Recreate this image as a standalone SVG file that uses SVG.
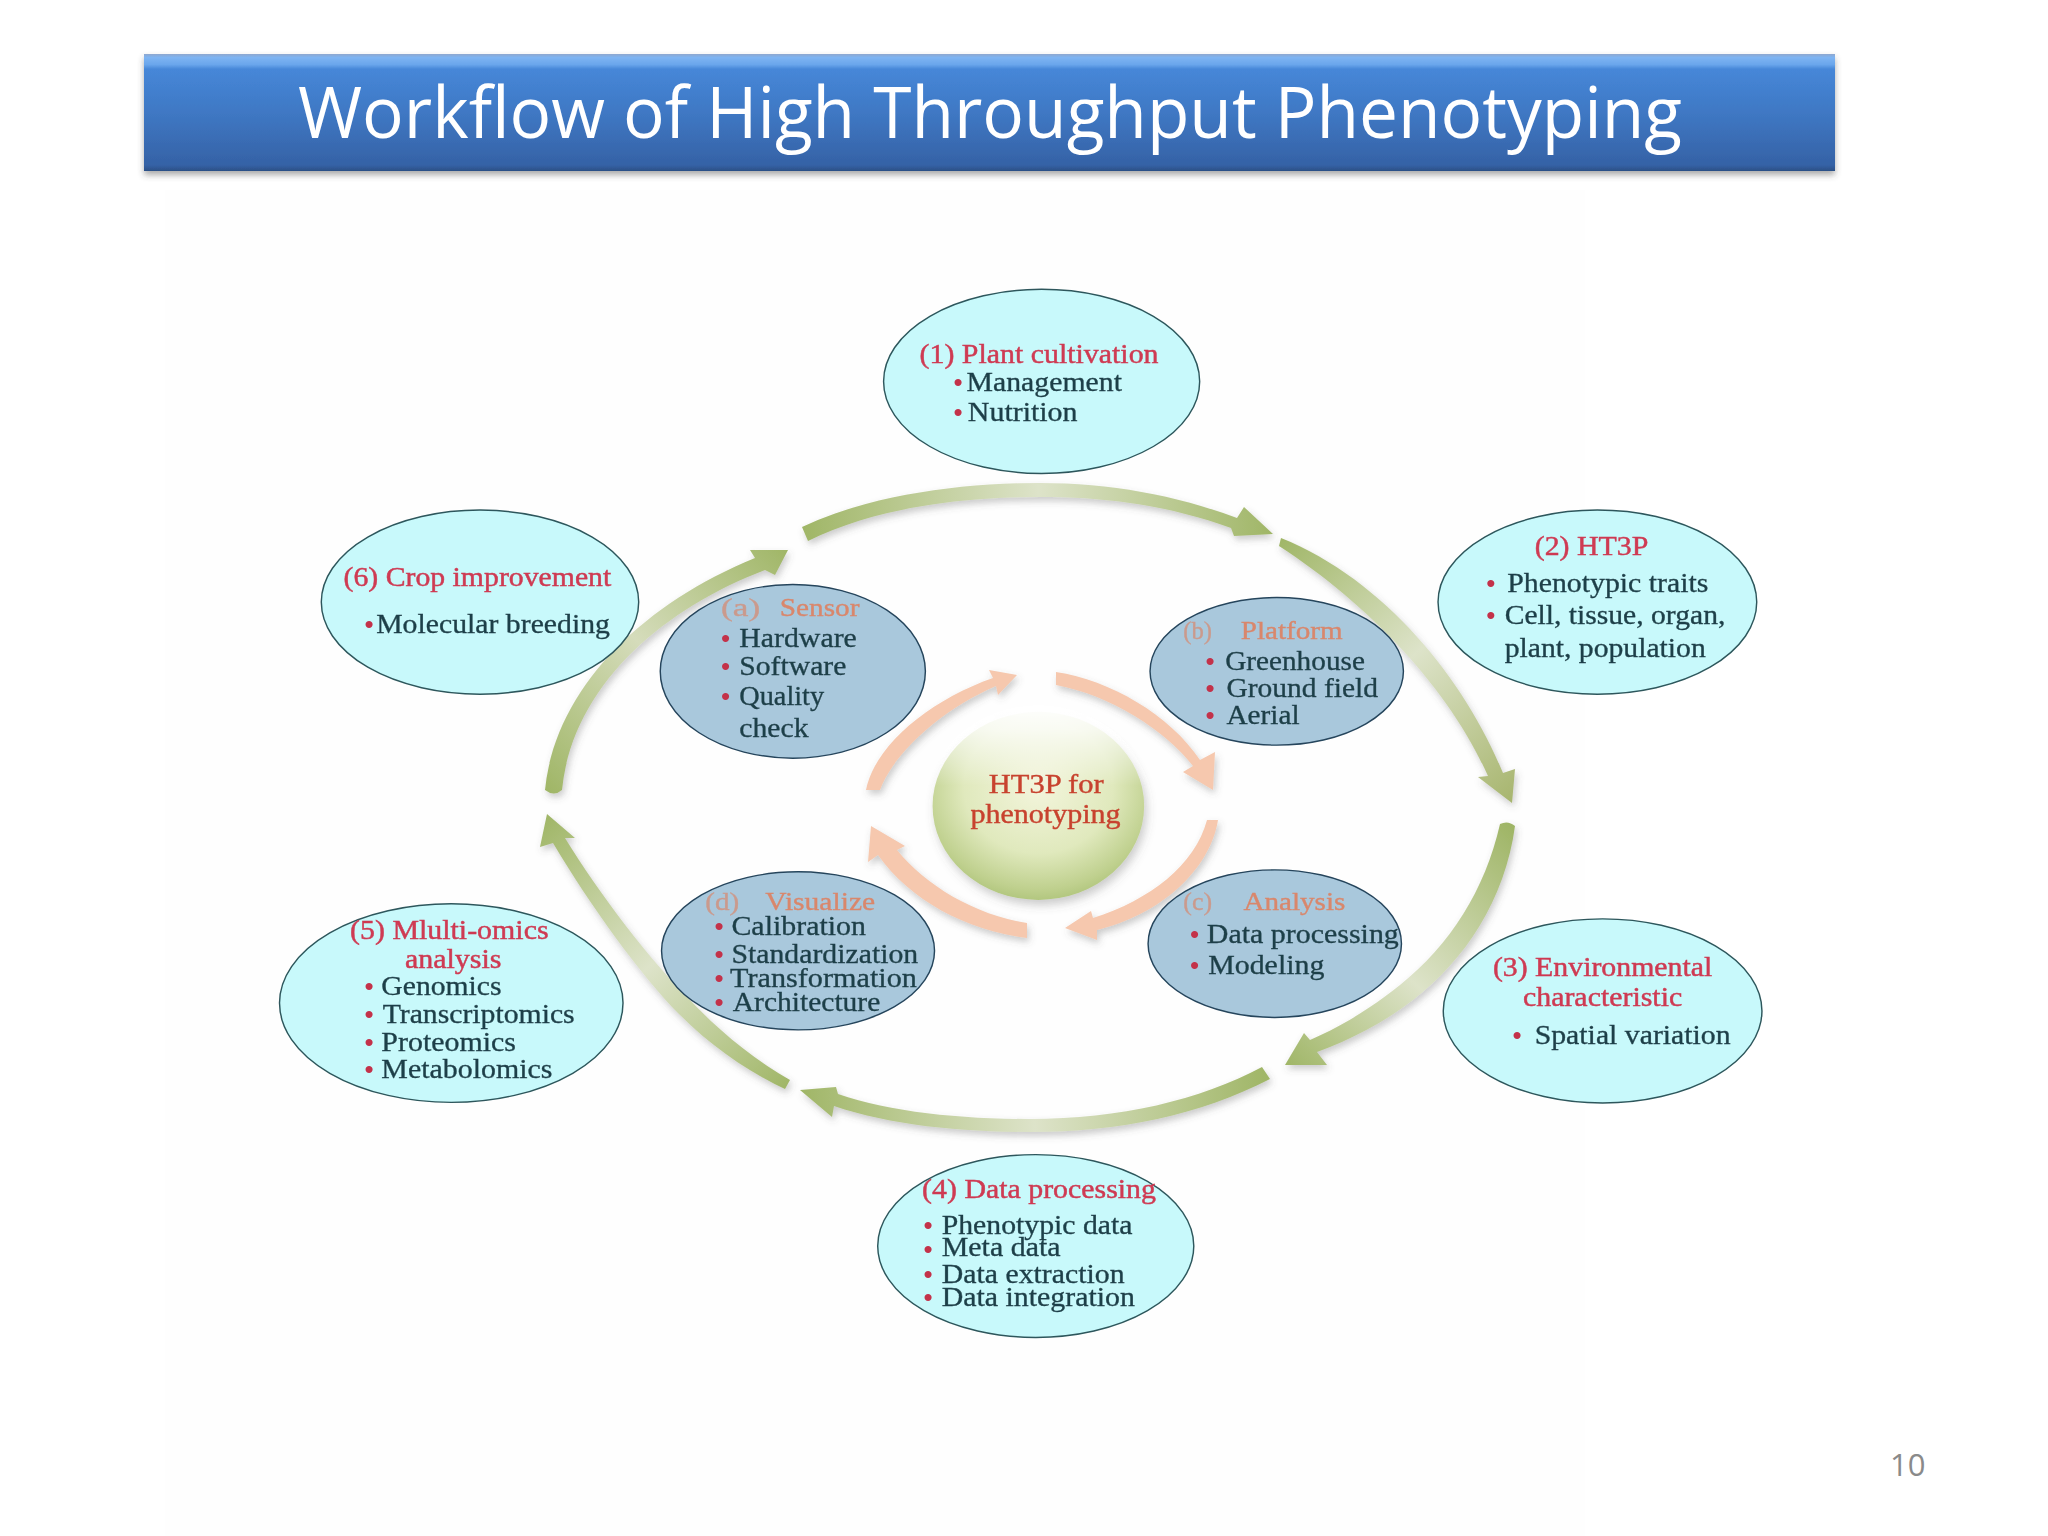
<svg xmlns="http://www.w3.org/2000/svg" width="2048" height="1536" viewBox="0 0 2048 1536">
<style>
text{font-family:"Liberation Serif","Times New Roman",serif}
.h{fill:#cf3a52;stroke:#cf3a52;stroke-width:.35;font-size:21px}
.o{fill:#d9876c;stroke:#d9876c;stroke-width:.3;font-size:20px}
.b{fill:#1f3f48;stroke:#1f3f48;stroke-width:.25;font-size:20.5px}
.d{fill:#c3304a;font-size:20px;font-weight:bold}
.c{fill:#c8f9fb;stroke:#2d575c;stroke-width:1.1}
.s{fill:#a9c8dc;stroke:#25455c;stroke-width:1.1}
.g{stroke:none}
.p{fill:#f6c8ae;stroke:none}
</style>
<defs>
<linearGradient id="bar" x1="0" y1="0" x2="0" y2="1">
<stop offset="0" stop-color="#8fa8cf"/><stop offset=".03" stop-color="#7eb4f2"/><stop offset=".09" stop-color="#6aa6ec"/><stop offset=".13" stop-color="#4687d8"/><stop offset=".5" stop-color="#3f78c4"/><stop offset=".95" stop-color="#3562a6"/><stop offset="1" stop-color="#2b4f85"/>
</linearGradient>
<linearGradient id="a1" gradientUnits="userSpaceOnUse" x1="804" y1="530" x2="1273" y2="530"><stop offset="0" stop-color="#a0b667"/><stop offset=".5" stop-color="#dde3c9"/><stop offset="1" stop-color="#a0b667"/></linearGradient>
<linearGradient id="a2" gradientUnits="userSpaceOnUse" x1="1279" y1="540" x2="1512" y2="803"><stop offset="0" stop-color="#a0b667"/><stop offset=".5" stop-color="#dde3c9"/><stop offset="1" stop-color="#a7b56e"/></linearGradient>
<linearGradient id="a3" gradientUnits="userSpaceOnUse" x1="1508" y1="824" x2="1285" y2="1065"><stop offset="0" stop-color="#9fb566"/><stop offset=".55" stop-color="#dde3c9"/><stop offset="1" stop-color="#a0b667"/></linearGradient>
<linearGradient id="a4" gradientUnits="userSpaceOnUse" x1="1266" y1="1070" x2="800" y2="1090"><stop offset="0" stop-color="#a0b667"/><stop offset=".5" stop-color="#dde3c9"/><stop offset="1" stop-color="#a0b667"/></linearGradient>
<linearGradient id="a5" gradientUnits="userSpaceOnUse" x1="788" y1="1087" x2="547" y2="814"><stop offset="0" stop-color="#a0b667"/><stop offset=".5" stop-color="#dde3c9"/><stop offset="1" stop-color="#a0b667"/></linearGradient>
<linearGradient id="a6" gradientUnits="userSpaceOnUse" x1="550" y1="793" x2="788" y2="550"><stop offset="0" stop-color="#a0b667"/><stop offset=".5" stop-color="#d5dcbb"/><stop offset="1" stop-color="#a0b667"/></linearGradient>
<radialGradient id="hub" cx=".5" cy=".4" r=".64"><stop offset="0" stop-color="#f3f5dc"/><stop offset=".55" stop-color="#e0e9bd"/><stop offset=".85" stop-color="#bfd08e"/><stop offset="1" stop-color="#a9c074"/></radialGradient>
<linearGradient id="fade" x1="0" y1="0" x2="0" y2="1"><stop offset="0" stop-color="#fff" stop-opacity="1"/><stop offset=".12" stop-color="#fff" stop-opacity=".8"/><stop offset=".4" stop-color="#fff" stop-opacity="0"/></linearGradient>
<filter id="sh" x="-20%" y="-20%" width="140%" height="140%"><feDropShadow dx="2" dy="4" stdDeviation="3.5" flood-color="#555" flood-opacity=".3"/></filter>
<filter id="soft" x="-2%" y="-2%" width="104%" height="104%"><feGaussianBlur stdDeviation=".7"/></filter>
<filter id="bs" x="-5%" y="-20%" width="110%" height="150%"><feDropShadow dx="0" dy="4" stdDeviation="3" flood-color="#444" flood-opacity=".45"/></filter>
</defs>
<rect width="2048" height="1536" fill="#ffffff"/>
<rect x="165" y="190" width="1420" height="1346" fill="#fefefe"/>
<g id="title">
<rect x="144" y="54" width="1691" height="117" fill="url(#bar)" filter="url(#bs)"/>
<text x="298" y="138" font-size="72" fill="#ffffff" textLength="1384" lengthAdjust="spacingAndGlyphs" style="font-family:'Open Sans','Noto Sans',sans-serif">Workflow of High Throughput Phenotyping</text>
</g>
<g filter="url(#soft)">
<g id="connectors">
<g filter="url(#sh)">
<path class="g" fill="url(#a1)" d="M802,527 C870,495 960,483 1040,483 C1110,483 1175,495 1237,518 L1244,507 L1273,534 L1234,536 L1231,528 C1170,506 1110,497 1040,497 C960,497 875,508 808,541 Z"/>
<path class="g" fill="url(#a2)" d="M1281,538 C1385,580 1465,680 1503,773 L1515,769 L1512,803 L1478,777 L1488,776 C1450,690 1370,605 1279,546 Z"/>
<path class="g" fill="url(#a3)" d="M1500,824 Q1508,820 1515,826 C1505,900 1465,960 1413,1000 C1385,1022 1350,1040 1317,1052 L1327,1065 L1285,1065 L1304,1033 L1310,1040 C1345,1025 1375,1005 1400,985 C1450,945 1485,890 1500,824 Z"/>
<path class="g" fill="url(#a4)" d="M1262,1067 L1270,1079 C1200,1115 1120,1132 1030,1132 C960,1132 890,1125 834,1106 L832,1117 L800,1090 L836,1087 L838,1094 C890,1112 960,1119 1030,1119 C1120,1119 1200,1100 1262,1067 Z"/>
<path class="g" fill="url(#a5)" d="M785,1089 C745,1070 710,1045 680,1015 C640,975 590,905 553,843 L540,847 L547,814 L575,838 L565,838 C600,895 650,960 690,1000 C720,1032 755,1060 790,1080 Z"/>
<path class="g" fill="url(#a6)" d="M545,790 C555,690 640,605 755,558 L750,550 L788,550 L775,575 L765,570 C660,610 572,688 562,790 Q554,797 545,790 Z"/>
<path class="p" d="M866,790 C875,745 930,700 993,678 L989,670 L1017,675 L998,695 L996,686 C945,708 895,750 880,790 Z"/>
<path class="p" d="M1056,672 C1110,680 1170,715 1200,760 L1215,752 L1213,790 L1183,772 L1193,766 C1165,730 1110,695 1056,685 Z"/>
<path class="p" d="M1207,820 L1218,820 C1210,870 1160,915 1097,930 L1097,940 L1065,928 L1091,911 L1093,918 C1150,900 1195,865 1207,820 Z"/>
<path class="p" d="M1027,923 C975,915 925,885 897,850 L905,846 L871,826 L868,862 L878,855 C910,900 965,930 1027,938 Z"/>
</g>
</g>
<g transform="scale(1.30612)">
<g id="node-1"><ellipse class="c" cx="797.5" cy="292" rx="121" ry="70.5"/>
<text class="h" x="704" y="278" textLength="183" lengthAdjust="spacingAndGlyphs">(1) Plant cultivation</text>
<text class="d" x="730" y="299">•</text><text class="b" x="740" y="299" textLength="119" lengthAdjust="spacingAndGlyphs">Management</text>
<text class="d" x="730" y="322">•</text><text class="b" x="741" y="322" textLength="84" lengthAdjust="spacingAndGlyphs">Nutrition</text></g>
<g id="node-2"><ellipse class="c" cx="1223" cy="461" rx="122" ry="70.5"/>
<text class="h" x="1175" y="425" textLength="87" lengthAdjust="spacingAndGlyphs">(2) HT3P</text>
<text class="d" x="1138" y="453">•</text><text class="b" x="1154" y="453" textLength="154" lengthAdjust="spacingAndGlyphs">Phenotypic traits</text>
<text class="d" x="1138" y="478">•</text><text class="b" x="1152" y="478" textLength="169" lengthAdjust="spacingAndGlyphs">Cell, tissue, organ,</text>
<text class="b" x="1152" y="503" textLength="154" lengthAdjust="spacingAndGlyphs">plant, population</text></g>
<g id="node-3"><ellipse class="c" cx="1227" cy="774" rx="122" ry="70.5"/>
<text class="h" x="1143" y="747" textLength="168" lengthAdjust="spacingAndGlyphs">(3) Environmental</text>
<text class="h" x="1166" y="770" textLength="122" lengthAdjust="spacingAndGlyphs">characteristic</text>
<text class="d" x="1158" y="799">•</text><text class="b" x="1175" y="799" textLength="150" lengthAdjust="spacingAndGlyphs">Spatial variation</text></g>
<g id="node-4"><ellipse class="c" cx="793" cy="954" rx="121" ry="70"/>
<text class="h" x="706" y="917" textLength="179" lengthAdjust="spacingAndGlyphs">(4) Data processing</text>
<text class="d" x="707" y="945">•</text><text class="b" x="721" y="945" textLength="146" lengthAdjust="spacingAndGlyphs">Phenotypic data</text>
<text class="d" x="707" y="963">•</text><text class="b" x="721" y="962" textLength="91" lengthAdjust="spacingAndGlyphs">Meta data</text>
<text class="d" x="707" y="982">•</text><text class="b" x="721" y="982" textLength="140" lengthAdjust="spacingAndGlyphs">Data extraction</text>
<text class="d" x="707" y="1000">•</text><text class="b" x="721" y="1000" textLength="148" lengthAdjust="spacingAndGlyphs">Data integration</text></g>
<g id="node-5"><ellipse class="c" cx="345.5" cy="768" rx="131.5" ry="76"/>
<text class="h" x="268" y="719" textLength="152" lengthAdjust="spacingAndGlyphs">(5) Mlulti-omics</text>
<text class="h" x="310" y="741" textLength="74" lengthAdjust="spacingAndGlyphs">analysis</text>
<text class="d" x="279" y="762">•</text><text class="b" x="292" y="762" textLength="92" lengthAdjust="spacingAndGlyphs">Genomics</text>
<text class="d" x="279" y="783">•</text><text class="b" x="293" y="783" textLength="147" lengthAdjust="spacingAndGlyphs">Transcriptomics</text>
<text class="d" x="279" y="805">•</text><text class="b" x="292" y="805" textLength="103" lengthAdjust="spacingAndGlyphs">Proteomics</text>
<text class="d" x="279" y="825">•</text><text class="b" x="292" y="825" textLength="131" lengthAdjust="spacingAndGlyphs">Metabolomics</text></g>
<g id="node-6"><ellipse class="c" cx="367.5" cy="461" rx="121.5" ry="70.5"/>
<text class="h" x="263" y="449" textLength="205" lengthAdjust="spacingAndGlyphs">(6) Crop improvement</text>
<text class="d" x="279" y="485">•</text><text class="b" x="288" y="485" textLength="179" lengthAdjust="spacingAndGlyphs">Molecular breeding</text></g>
<g id="node-a"><ellipse class="s" cx="607" cy="514" rx="101.5" ry="66.5"/>
<text class="o" x="552" y="472" textLength="30" lengthAdjust="spacingAndGlyphs" opacity=".7">(a)</text><text class="o" x="597" y="472" textLength="61" lengthAdjust="spacingAndGlyphs">Sensor</text>
<text class="d" x="552" y="495">•</text><text class="b" x="566" y="495" textLength="90" lengthAdjust="spacingAndGlyphs">Hardware</text>
<text class="d" x="552" y="517">•</text><text class="b" x="566" y="517" textLength="82" lengthAdjust="spacingAndGlyphs">Software</text>
<text class="d" x="552" y="540">•</text><text class="b" x="566" y="540" textLength="65" lengthAdjust="spacingAndGlyphs">Quality</text>
<text class="b" x="566" y="564" textLength="53" lengthAdjust="spacingAndGlyphs">check</text></g>
<g id="node-b"><ellipse class="s" cx="977.5" cy="514" rx="97" ry="56.5"/>
<text class="o" x="906" y="489" textLength="22" lengthAdjust="spacingAndGlyphs" opacity=".7">(b)</text><text class="o" x="950" y="489" textLength="78" lengthAdjust="spacingAndGlyphs">Platform</text>
<text class="d" x="923" y="513">•</text><text class="b" x="938" y="513" textLength="107" lengthAdjust="spacingAndGlyphs">Greenhouse</text>
<text class="d" x="923" y="534">•</text><text class="b" x="939" y="534" textLength="116" lengthAdjust="spacingAndGlyphs">Ground field</text>
<text class="d" x="923" y="554">•</text><text class="b" x="939" y="554" textLength="56" lengthAdjust="spacingAndGlyphs">Aerial</text></g>
<g id="node-c"><ellipse class="s" cx="976" cy="722.5" rx="97" ry="56.5"/>
<text class="o" x="906" y="697" textLength="22" lengthAdjust="spacingAndGlyphs" opacity=".7">(c)</text><text class="o" x="952" y="697" textLength="78" lengthAdjust="spacingAndGlyphs">Analysis</text>
<text class="d" x="911" y="722">•</text><text class="b" x="924" y="722" textLength="147" lengthAdjust="spacingAndGlyphs">Data processing</text>
<text class="d" x="911" y="746">•</text><text class="b" x="925" y="746" textLength="89" lengthAdjust="spacingAndGlyphs">Modeling</text></g>
<g id="node-d"><ellipse class="s" cx="611" cy="728" rx="104.5" ry="60.5"/>
<text class="o" x="540" y="697" textLength="26" lengthAdjust="spacingAndGlyphs" opacity=".7">(d)</text><text class="o" x="586" y="697" textLength="84" lengthAdjust="spacingAndGlyphs">Visualize</text>
<text class="d" x="547" y="716">•</text><text class="b" x="560" y="716" textLength="103" lengthAdjust="spacingAndGlyphs">Calibration</text>
<text class="d" x="547" y="737">•</text><text class="b" x="560" y="737" textLength="143" lengthAdjust="spacingAndGlyphs">Standardization</text>
<text class="d" x="547" y="756">•</text><text class="b" x="559" y="756" textLength="143" lengthAdjust="spacingAndGlyphs">Transformation</text>
<text class="d" x="547" y="774">•</text><text class="b" x="561" y="774" textLength="113" lengthAdjust="spacingAndGlyphs">Architecture</text></g>
<g id="node-hub"><ellipse cx="795" cy="617" rx="81" ry="72" fill="url(#hub)" filter="url(#sh)"/><ellipse cx="795" cy="617" rx="86" ry="77" fill="url(#fade)"/>
<text x="757" y="607" font-size="20.5" fill="#c8432f" stroke="#c8432f" stroke-width=".3" textLength="88" lengthAdjust="spacingAndGlyphs">HT3P for</text>
<text x="743" y="630" font-size="20.5" fill="#c8432f" stroke="#c8432f" stroke-width=".3" textLength="115" lengthAdjust="spacingAndGlyphs">phenotyping</text></g>
</g>
</g>
<text id="page" x="1890" y="1476" font-size="31" fill="#8a8a8a" style="font-family:'Open Sans','Noto Sans',sans-serif">10</text>
</svg>
